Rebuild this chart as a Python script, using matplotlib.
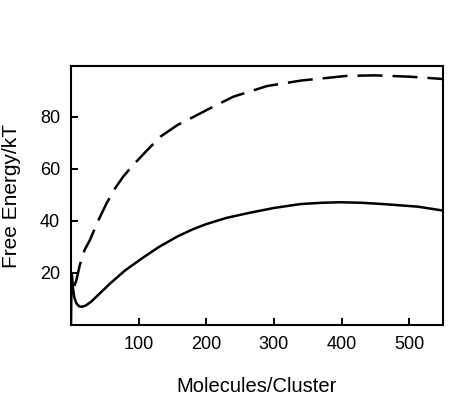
import matplotlib
matplotlib.use("Agg")
import matplotlib.pyplot as plt

# values
solid_x = [0, 0.8, 1.5, 3, 5, 8, 12, 16, 22, 30, 42, 58, 80, 107, 130, 157,
           180, 200, 230, 265, 300, 339, 370, 398, 430, 462, 513, 550]
solid_y = [0, 20, 19, 14, 10.5, 8.3, 7.2, 7, 7.5, 9, 12, 16, 21, 26, 30, 34,
           36.8, 38.8, 41.2, 43.2, 45, 46.5, 47, 47.2, 47, 46.5, 45.5, 44]

dashed_x = [5, 8, 13, 20, 28, 40, 53, 65, 77, 90, 110, 132, 158, 181, 203,
            240, 290, 340, 408, 450, 500, 550]
dashed_y = [15, 17.3, 23, 28.8, 32.7, 40, 47, 52.5, 57, 61, 66.5, 72.4, 77,
            80, 83, 87.8, 91.9, 94, 95.8, 96, 95.5, 94.6]

x_ticks = [100, 200, 300, 400, 500]
y_ticks = [20, 40, 60, 80]

plt.rcParams['font.family'] = ['Liberation Sans', 'DejaVu Sans']

fig = plt.figure(figsize=(4.74, 3.95), dpi=100)
ax = fig.add_axes([71/474, 70/395, 372/474, 259/395])

ax.plot(solid_x, solid_y, color='black', lw=1.8)
ax.plot(dashed_x, dashed_y, color='black', lw=1.8, dashes=(10, 4))

ax.set_xlim(0, 550)
ax.set_ylim(0, 99.6)
ax.set_xticks(x_ticks)
ax.set_yticks(y_ticks)
ax.tick_params(direction='in', length=5, width=1.4, labelsize=13, pad=8)
for s in ax.spines.values():
    s.set_linewidth(1.5)

ax.set_xlabel('Molecules/Cluster', fontsize=14.5)
ax.set_ylabel('Free Energy/kT', fontsize=15)
ax.xaxis.set_label_coords(0.5, -0.2)
ax.yaxis.set_label_coords(-0.135, 0.5)

fig.savefig('out.png', dpi=100)
